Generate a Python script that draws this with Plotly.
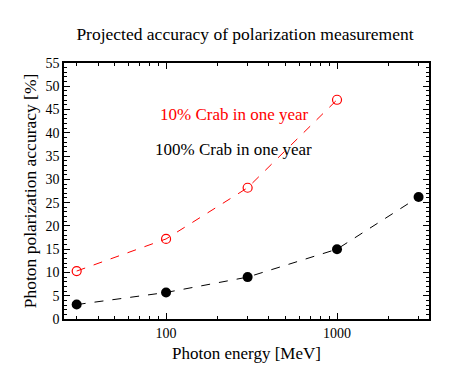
import plotly.graph_objects as go

energy = [30, 100, 300, 1000, 3000]
crab100 = [3.1, 5.7, 9.0, 15.0, 26.2]
energy10 = [30, 100, 300, 1000]
crab10 = [10.3, 17.2, 28.2, 47.1]

font = "Liberation Serif, Times New Roman, serif"

fig = go.Figure()
fig.add_trace(go.Scatter(x=energy10, y=crab10, mode="lines+markers",
                         line=dict(color="red", width=1, dash="dash"),
                         marker=dict(symbol="circle-open", size=9, color="red", line=dict(width=1.2, color="red")),
                         showlegend=False))
fig.add_trace(go.Scatter(x=energy, y=crab100, mode="lines+markers",
                         line=dict(color="black", width=1, dash="dash"),
                         marker=dict(symbol="circle", size=10, color="black"),
                         showlegend=False))

fig.add_annotation(x=0.258, y=0.844, xref="paper", yref="paper", text="10% Crab in one year",
                   showarrow=False, font=dict(color="red", size=17, family=font), xanchor="left")
fig.add_annotation(x=0.243, y=0.707, xref="paper", yref="paper", text="100% Crab in one year",
                   showarrow=False, font=dict(color="black", size=17, family=font), xanchor="left")

axis_common = dict(showline=True, linecolor="black", linewidth=1.5, mirror="allticks",
                   ticks="inside", ticklen=6, tickwidth=1, tickcolor="black",
                   showgrid=False, zeroline=False, automargin=False,
                   tickfont=dict(family=font, size=14, color="black"))

fig.update_xaxes(type="log", range=[1.403, 3.538],
                 tickvals=[100, 1000], ticktext=["100", "1000"],
                 minor=dict(ticks="inside", ticklen=3, tickcolor="black",
                            tickvals=[30, 40, 50, 60, 70, 80, 90, 200, 300, 400, 500, 600, 700, 800, 900, 2000, 3000]),
                 title=dict(text="Photon energy [MeV]", font=dict(family=font, size=17, color="black"), standoff=8),
                 **axis_common)
fig.update_yaxes(range=[0, 55], dtick=5,
                 minor=dict(ticks="inside", ticklen=3, tickcolor="black", dtick=1),
                 title=dict(text="Photon polarization accuracy [%]", font=dict(family=font, size=17.5, color="black"), standoff=4),
                 **axis_common)

fig.update_layout(
    width=474, height=365,
    margin=dict(l=56, r=53, t=55, b=54),
    plot_bgcolor="white", paper_bgcolor="white",
    title=dict(text="Projected accuracy of polarization measurement", x=0.5, xanchor="center",
               y=0.93, yanchor="middle", font=dict(family=font, size=17.5, color="black")),
)

fig.write_html("out.html")
